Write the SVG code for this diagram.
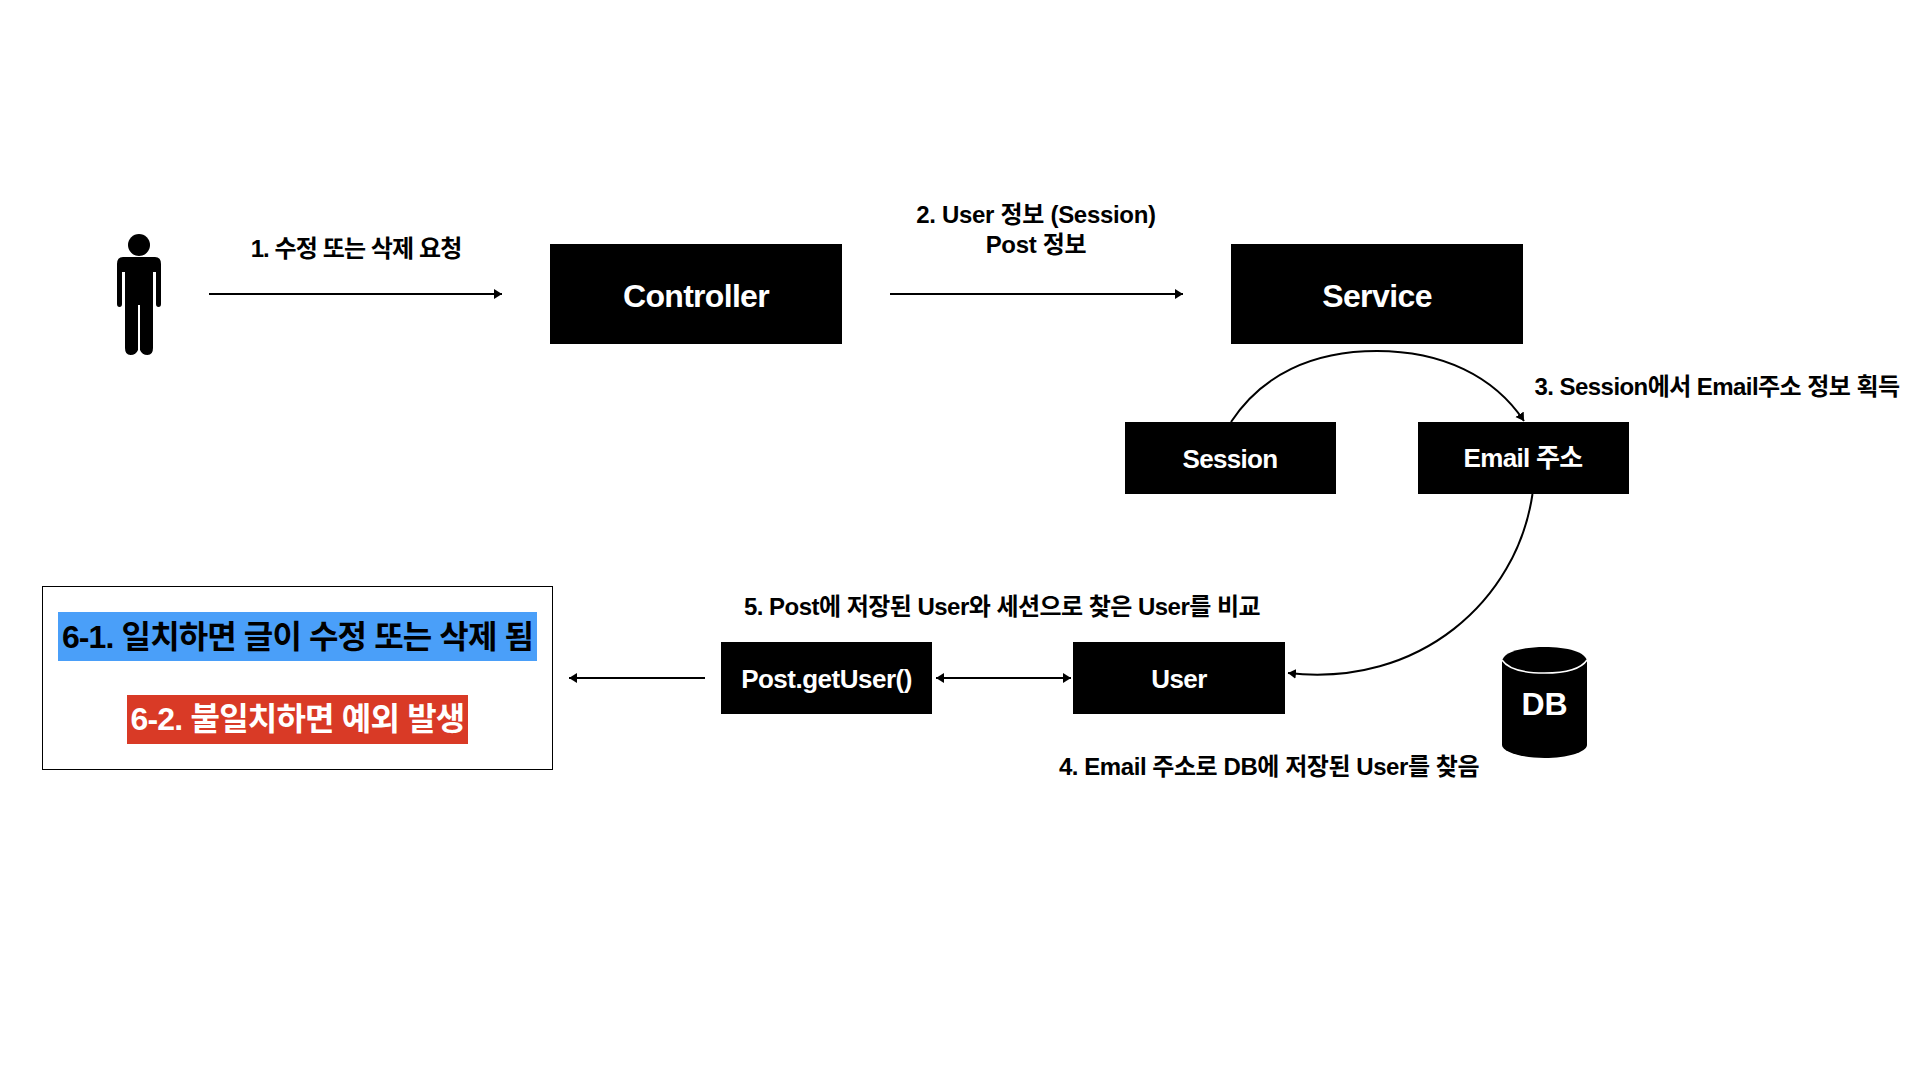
<svg xmlns="http://www.w3.org/2000/svg" width="1920" height="1080" viewBox="0 0 1920 1080">
<style>
text{font-family:"Liberation Sans","Noto Sans CJK KR",sans-serif;font-weight:700;text-anchor:middle;fill:#000}
.w{fill:#fff}
.l{font-size:24px}
.n{font-size:26px}
.b{font-size:32px}
.c{fill:none;stroke:#000;stroke-width:2}
</style>
<defs>
<marker id="a" markerUnits="userSpaceOnUse" markerWidth="10" markerHeight="12" refX="8" refY="5" orient="auto-start-reverse"><path d="M0 0L8 5L0 10Z"/></marker>
</defs>
<rect width="1920" height="1080" fill="#fff"/>
<g id="connectors">
<path class="c" marker-end="url(#a)" d="M209 294H502"/>
<path class="c" marker-end="url(#a)" d="M890 294H1183"/>
<path class="c" marker-end="url(#a)" d="M1231 422C1262 375 1312 351 1377 351C1442 351 1494 376 1524 421"/>
<path class="c" marker-end="url(#a)" d="M1532.500 494C1517 600 1420 688 1288 673"/>
<path class="c" marker-start="url(#a)" marker-end="url(#a)" d="M936 678H1071"/>
<path class="c" marker-end="url(#a)" d="M705 678H569"/>
</g>
<g id="person">
<circle cx="139" cy="245" r="11"/>
<path d="M123 257H155Q161 257 161 264V304Q161 307 158.500 307Q156 307 156 304V272H153V305V348Q153 355 147.500 355Q142 355 140 350V305H138V350Q136 355 130.500 355Q125 355 125 348V272H122V304Q122 307 119.500 307Q117 307 117 304V264Q117 257 123 257Z"/>
</g>
<g id="label1"><text class="l" x="356" y="257" letter-spacing="-.9">1. 수정 또는 삭제 요청</text></g>
<g id="controller"><rect x="550" y="244" width="292" height="100"/><text class="b w" x="696" y="307" letter-spacing="-.7">Controller</text></g>
<g id="label2"><text class="l" x="1036" y="223" letter-spacing="-.3">2. User 정보 (Session)</text><text class="l" x="1036" y="253" letter-spacing="-.3">Post 정보</text></g>
<g id="service"><rect x="1231" y="244" width="292" height="100"/><text class="b w" x="1377" y="307" letter-spacing="-.6">Service</text></g>
<g id="session"><rect x="1125" y="422" width="211" height="72"/><text class="n w" x="1230" y="468" letter-spacing="-.7">Session</text></g>
<g id="email"><rect x="1418" y="422" width="211" height="72"/><text class="n w" x="1523" y="467" letter-spacing="-.7">Email 주소</text></g>
<g id="label3"><text class="l" x="1717" y="395" letter-spacing="-.56">3. Session에서 Email주소 정보 획득</text></g>
<g id="label5"><text class="l" x="1002" y="615" letter-spacing="-.53">5. Post에 저장된 User와 세션으로 찾은 User를 비교</text></g>
<g id="postgetuser"><rect x="721" y="642" width="211" height="72"/><text class="n w" x="826.500" y="688" letter-spacing="-.5">Post.getUser()</text></g>
<g id="user"><rect x="1073" y="642" width="212" height="72"/><text class="n w" x="1179" y="688" letter-spacing="-.6">User</text></g>
<g id="label4"><text class="l" x="1269" y="775" letter-spacing="-.44">4. Email 주소로 DB에 저장된 User를 찾음</text></g>
<g id="db">
<path d="M1502 662C1502 652 1522 647 1544.500 647C1567 647 1587 652 1587 662V745C1587 752 1567 758 1544.500 758C1522 758 1502 752 1502 745Z"/>
<path d="M1502 660C1508 669 1525 673 1544.500 673C1564 673 1581 669 1587 660" fill="none" stroke="#fff" stroke-width="1.500"/>
<text class="b w" x="1544.500" y="715">DB</text>
</g>
<g id="result">
<rect x="42.500" y="586.500" width="510" height="183" fill="#fff" stroke="#000" stroke-width="1"/>
<rect x="58" y="612" width="479" height="49" fill="#4a9ff9"/>
<text class="b" x="297.500" y="648" letter-spacing="-.87">6-1. 일치하면 글이 수정 또는 삭제 됨</text>
<rect x="127" y="695" width="341" height="49" fill="#d93a26"/>
<text class="b w" x="297.500" y="730" letter-spacing="-.8">6-2. 불일치하면 예외 발생</text>
</g>
</svg>
